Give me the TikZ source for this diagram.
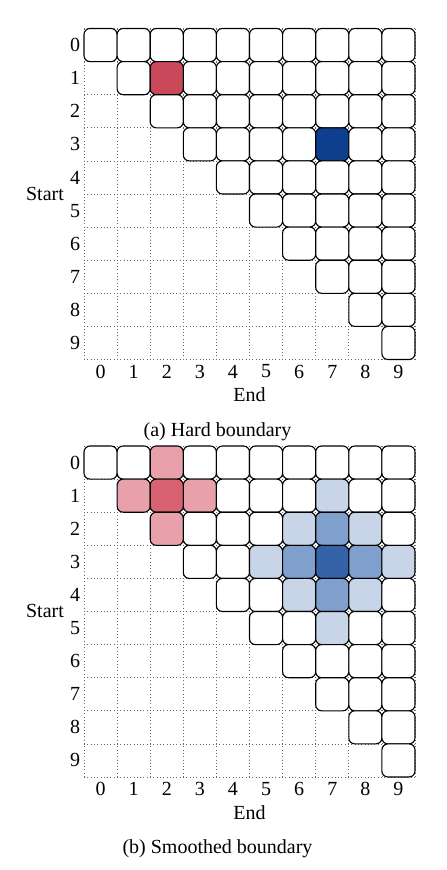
\documentclass[tikz,border=0pt]{standalone}
\usepackage{fontspec}
\setmainfont{Liberation Serif}
\definecolor{hardred}{HTML}{C9485A}
\definecolor{hardblue}{HTML}{0E3F8F}
\definecolor{sred}{HTML}{D86272}
\definecolor{lred}{HTML}{E8A0AB}
\definecolor{sblue}{HTML}{3663A8}
\definecolor{mblue}{HTML}{7F9FCC}
\definecolor{lblue}{HTML}{C8D5E8}
\newcommand\setcf[4]{\expandafter\def\csname cf-#1-#2-#3\endcsname{#4}}
% hard boundary
\setcf{a}{1}{2}{hardred}
\setcf{a}{3}{7}{hardblue}
% smoothed boundary
\setcf{b}{1}{2}{sred}
\setcf{b}{0}{2}{lred}
\setcf{b}{1}{1}{lred}
\setcf{b}{1}{3}{lred}
\setcf{b}{2}{2}{lred}
\setcf{b}{3}{7}{sblue}
\setcf{b}{2}{7}{mblue}
\setcf{b}{4}{7}{mblue}
\setcf{b}{3}{6}{mblue}
\setcf{b}{3}{8}{mblue}
\setcf{b}{1}{7}{lblue}
\setcf{b}{5}{7}{lblue}
\setcf{b}{3}{5}{lblue}
\setcf{b}{3}{9}{lblue}
\setcf{b}{2}{6}{lblue}
\setcf{b}{2}{8}{lblue}
\setcf{b}{4}{6}{lblue}
\setcf{b}{4}{8}{lblue}
\newcommand\drawpanel[3]{%
  \begin{scope}[shift={(84,#2)}]
    \foreach \k in {0,...,10}{
      \draw[gridline] ({\k*33.1},0) -- ({\k*33.1},331);
      \draw[gridline] (0,{\k*33.1}) -- (331,{\k*33.1});
    }
    \foreach \i in {0,...,9}{
      \foreach \j in {\i,...,9}{
        \ifcsname cf-#1-\i-\j\endcsname
          \edef\cf{\csname cf-#1-\i-\j\endcsname}%
        \else
          \def\cf{white}%
        \fi
        \node[cellbox, fill=\cf] (#1-\i-\j) at ({33.1*(\j+0.5)},{33.1*(\i+0.5)}) {};
      }
    }
    \foreach \k in {0,...,9}{
      \node[lbl] (#1-row-\k) at (-9,{33.1*(\k+0.5)}) {\k};
      \node[lbl] (#1-col-\k) at ({33.1*(\k+0.5)},343) {\k};
    }
    \node[lbl] (#1-start) at (-39,165) {Start};
    \node[lbl] (#1-end) at (165.5,366.5) {End};
    \node[lbl] (#1-caption) at (133.5,403) {#3};
  \end{scope}
}
\begin{document}
\begin{tikzpicture}[x=1pt,y=-1pt,
  font=\fontsize{20}{24}\selectfont,
  cellbox/.style={draw=black, line width=1.1pt, rounded corners=6pt,
    minimum size=33.1pt, inner sep=0pt},
  gridline/.style={black!60, line width=0.7pt, dash pattern=on 0.7pt off 2.6pt},
  lbl/.style={inner sep=0pt, anchor=center}]
\useasboundingbox (0,0) rectangle (447,870);
\fill[white] (0,0) rectangle (447,870);
\drawpanel{a}{28.5}{(a) Hard boundary}
\drawpanel{b}{446}{(b) Smoothed boundary}
\end{tikzpicture}
\end{document}
